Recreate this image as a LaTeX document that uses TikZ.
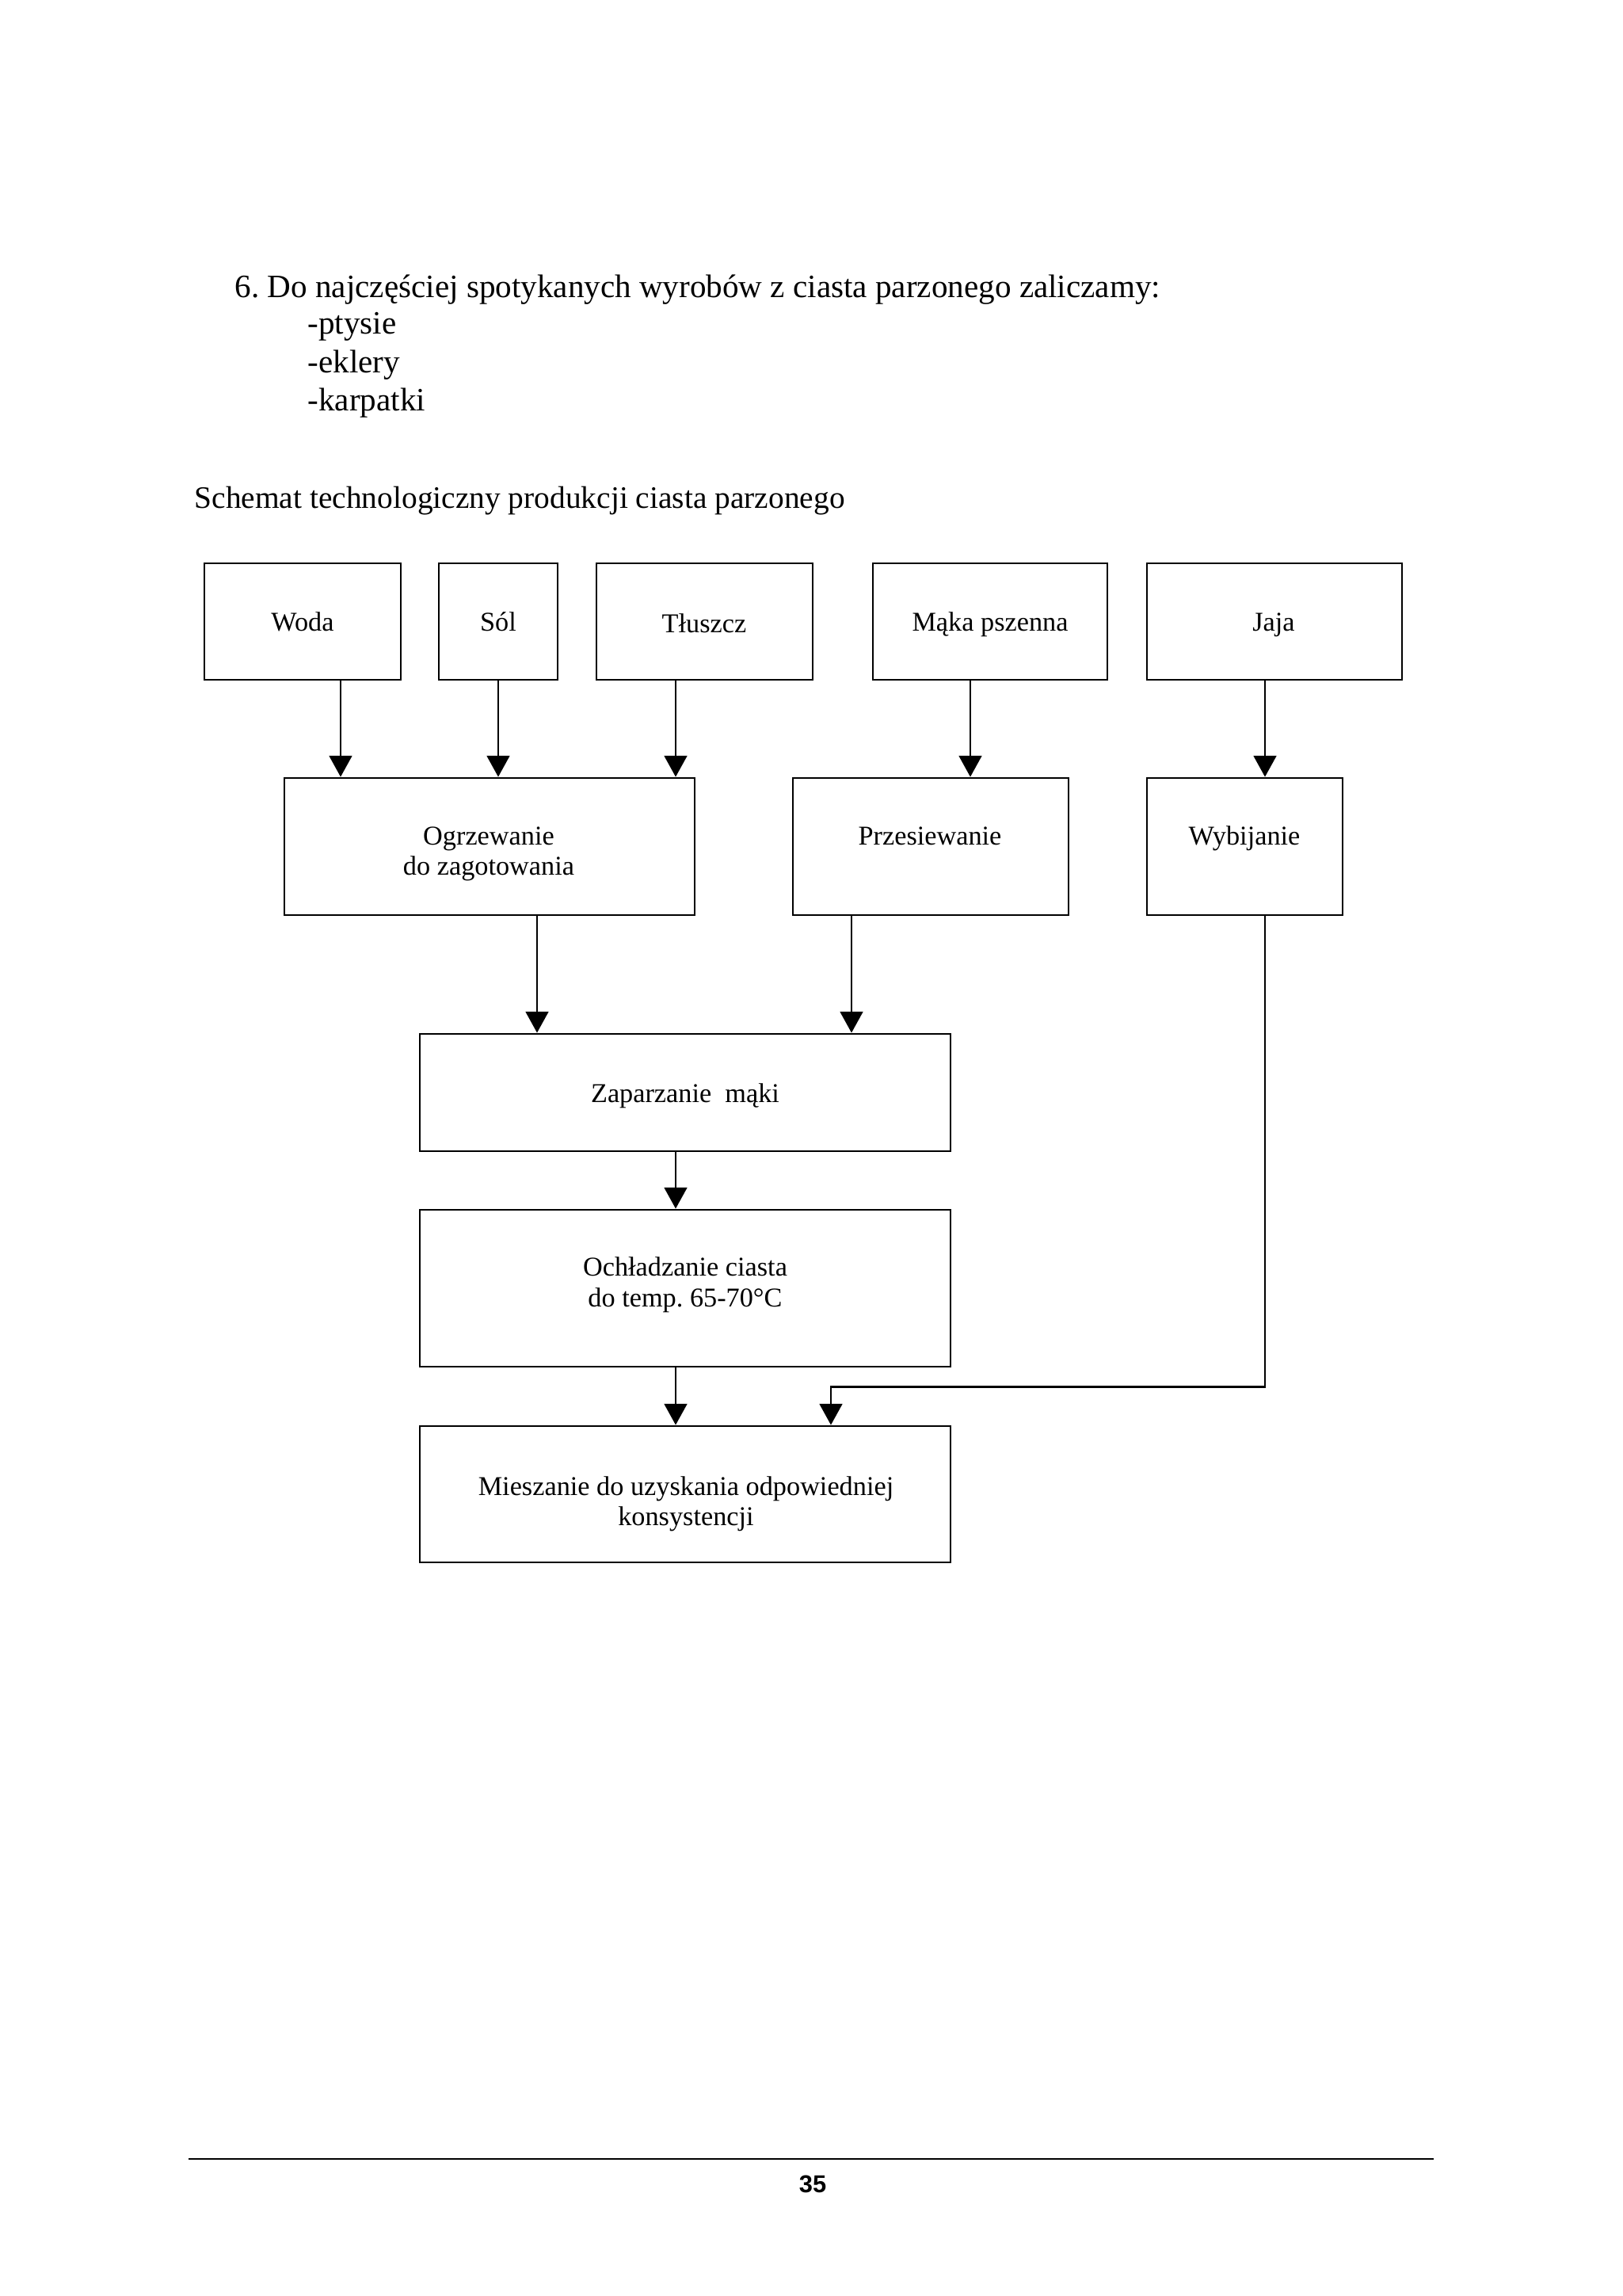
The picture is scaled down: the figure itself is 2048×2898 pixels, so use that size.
\documentclass[tikz,border=0pt]{standalone}
\usepackage{fontspec}
\setmainfont{Liberation Serif}
\newfontfamily\pagenumfont{Liberation Sans}
\usetikzlibrary{arrows.meta}
\newlength\pxu
\setlength\pxu{0.10254mm}
\newcommand\mkbox[5]{\node[pbox, minimum width={(#4-#2)*\pxu}, minimum height={(#5-#3)*\pxu}] (#1) at ({(#2+#4)/2},{(#3+#5)/2}) {};}
\frenchspacing
\begin{document}
\begin{tikzpicture}[x=0.10254mm, y=-0.10254mm,
  pbox/.style={draw, line width=0.85pt, inner sep=0pt},
  boxtext/.style={inner sep=0pt, anchor=base, font=\fontsize{10}{12}\selectfont},
  bodytext/.style={inner sep=0pt, anchor=base west, font=\fontsize{12}{14}\selectfont},
  flow/.style={line width=0.75pt, -{Triangle[length=7.8pt,width=8.4pt]}},
]
\useasboundingbox[fill=white] (0,0) rectangle (2048,2898);

% heading text
\node[bodytext] (h1) at (296,375) {6. Do najczęściej spotykanych wyrobów z ciasta parzonego zaliczamy:};
\node[bodytext] (h2) at (388,421.7) {-ptysie};
\node[bodytext] (h3) at (388,470) {-eklery};
\node[bodytext] (h4) at (388,518) {-karpatki};
\node[bodytext, font=\fontsize{11.5}{14}\selectfont] (sch) at (245,641.7) {Schemat technologiczny produkcji ciasta parzonego};

% boxes
\mkbox{woda}{258}{711}{506}{858}
\mkbox{sol}{554}{711}{704}{858}
\mkbox{tluszcz}{753}{711}{1026}{858}
\mkbox{maka}{1102}{711}{1398}{858}
\mkbox{jaja}{1448}{711}{1770}{858}
\mkbox{ogrz}{359}{982}{877}{1155}
\mkbox{przes}{1001}{982}{1349}{1155}
\mkbox{wybij}{1448}{982}{1695}{1155}
\mkbox{zap}{530}{1305}{1200}{1453}
\mkbox{ochl}{530}{1527}{1200}{1725}
\mkbox{miesz}{530}{1800}{1200}{1972}

% box texts
\node[boxtext] (woda-t) at (382,796) {Woda};
\node[boxtext] (sol-t) at (629,796) {Sól};
\node[boxtext] (tluszcz-t) at (889,798) {Tłuszcz};
\node[boxtext] (maka-t) at (1250,796) {Mąka pszenna};
\node[boxtext] (jaja-t) at (1608,796) {Jaja};
\node[boxtext] (ogrz-t1) at (617,1066) {Ogrzewanie};
\node[boxtext] (ogrz-t2) at (617,1104) {do zagotowania};
\node[boxtext] (przes-t) at (1174,1066) {Przesiewanie};
\node[boxtext] (wybij-t) at (1571,1066) {Wybijanie};
\node[boxtext] (zap-t) at (865,1391) {Zaparzanie\ \ mąki};
\node[boxtext] (ochl-t1) at (865,1610) {Ochładzanie ciasta};
\node[boxtext] (ochl-t2) at (865,1649) {do temp. 65-70°C};
\node[boxtext] (miesz-t1) at (866,1887) {Mieszanie do uzyskania odpowiedniej};
\node[boxtext] (miesz-t2) at (866,1925) {konsystencji};

% column coordinates
\coordinate (cA) at (430,0);
\coordinate (cB) at (629,0);
\coordinate (cC) at (853,0);
\coordinate (cD) at (1225,0);
\coordinate (cE) at (1597,0);
\coordinate (cF) at (678,0);
\coordinate (cG) at (1075,0);
\coordinate (cH) at (1049,0);
\coordinate (turn) at (1300,1750.5);

% connectors
\draw[flow] (woda.south -| cA) -- (ogrz.north -| cA);
\draw[flow] (sol.south -| cB) -- (ogrz.north -| cB);
\draw[flow] (tluszcz.south -| cC) -- (ogrz.north -| cC);
\draw[flow] (maka.south -| cD) -- (przes.north -| cD);
\draw[flow] (jaja.south -| cE) -- (wybij.north -| cE);
\draw[flow] (ogrz.south -| cF) -- (zap.north -| cF);
\draw[flow] (przes.south -| cG) -- (zap.north -| cG);
\draw[flow] (zap.south -| cC) -- (ochl.north -| cC);
\draw[flow] (ochl.south -| cC) -- (miesz.north -| cC);
\draw[flow] (wybij.south -| cE) |- (turn -| cH) -- (miesz.north -| cH);

% footer
\coordinate (rule-l) at (238,2725);
\coordinate (rule-r) at (1810,2725);
\draw[line width=0.75pt] (rule-l) -- (rule-r);
\node[inner sep=0pt, anchor=base, font=\pagenumfont\bfseries\fontsize{9}{10}\selectfont] (pagenum) at (1026,2767) {35};
\end{tikzpicture}
\end{document}
